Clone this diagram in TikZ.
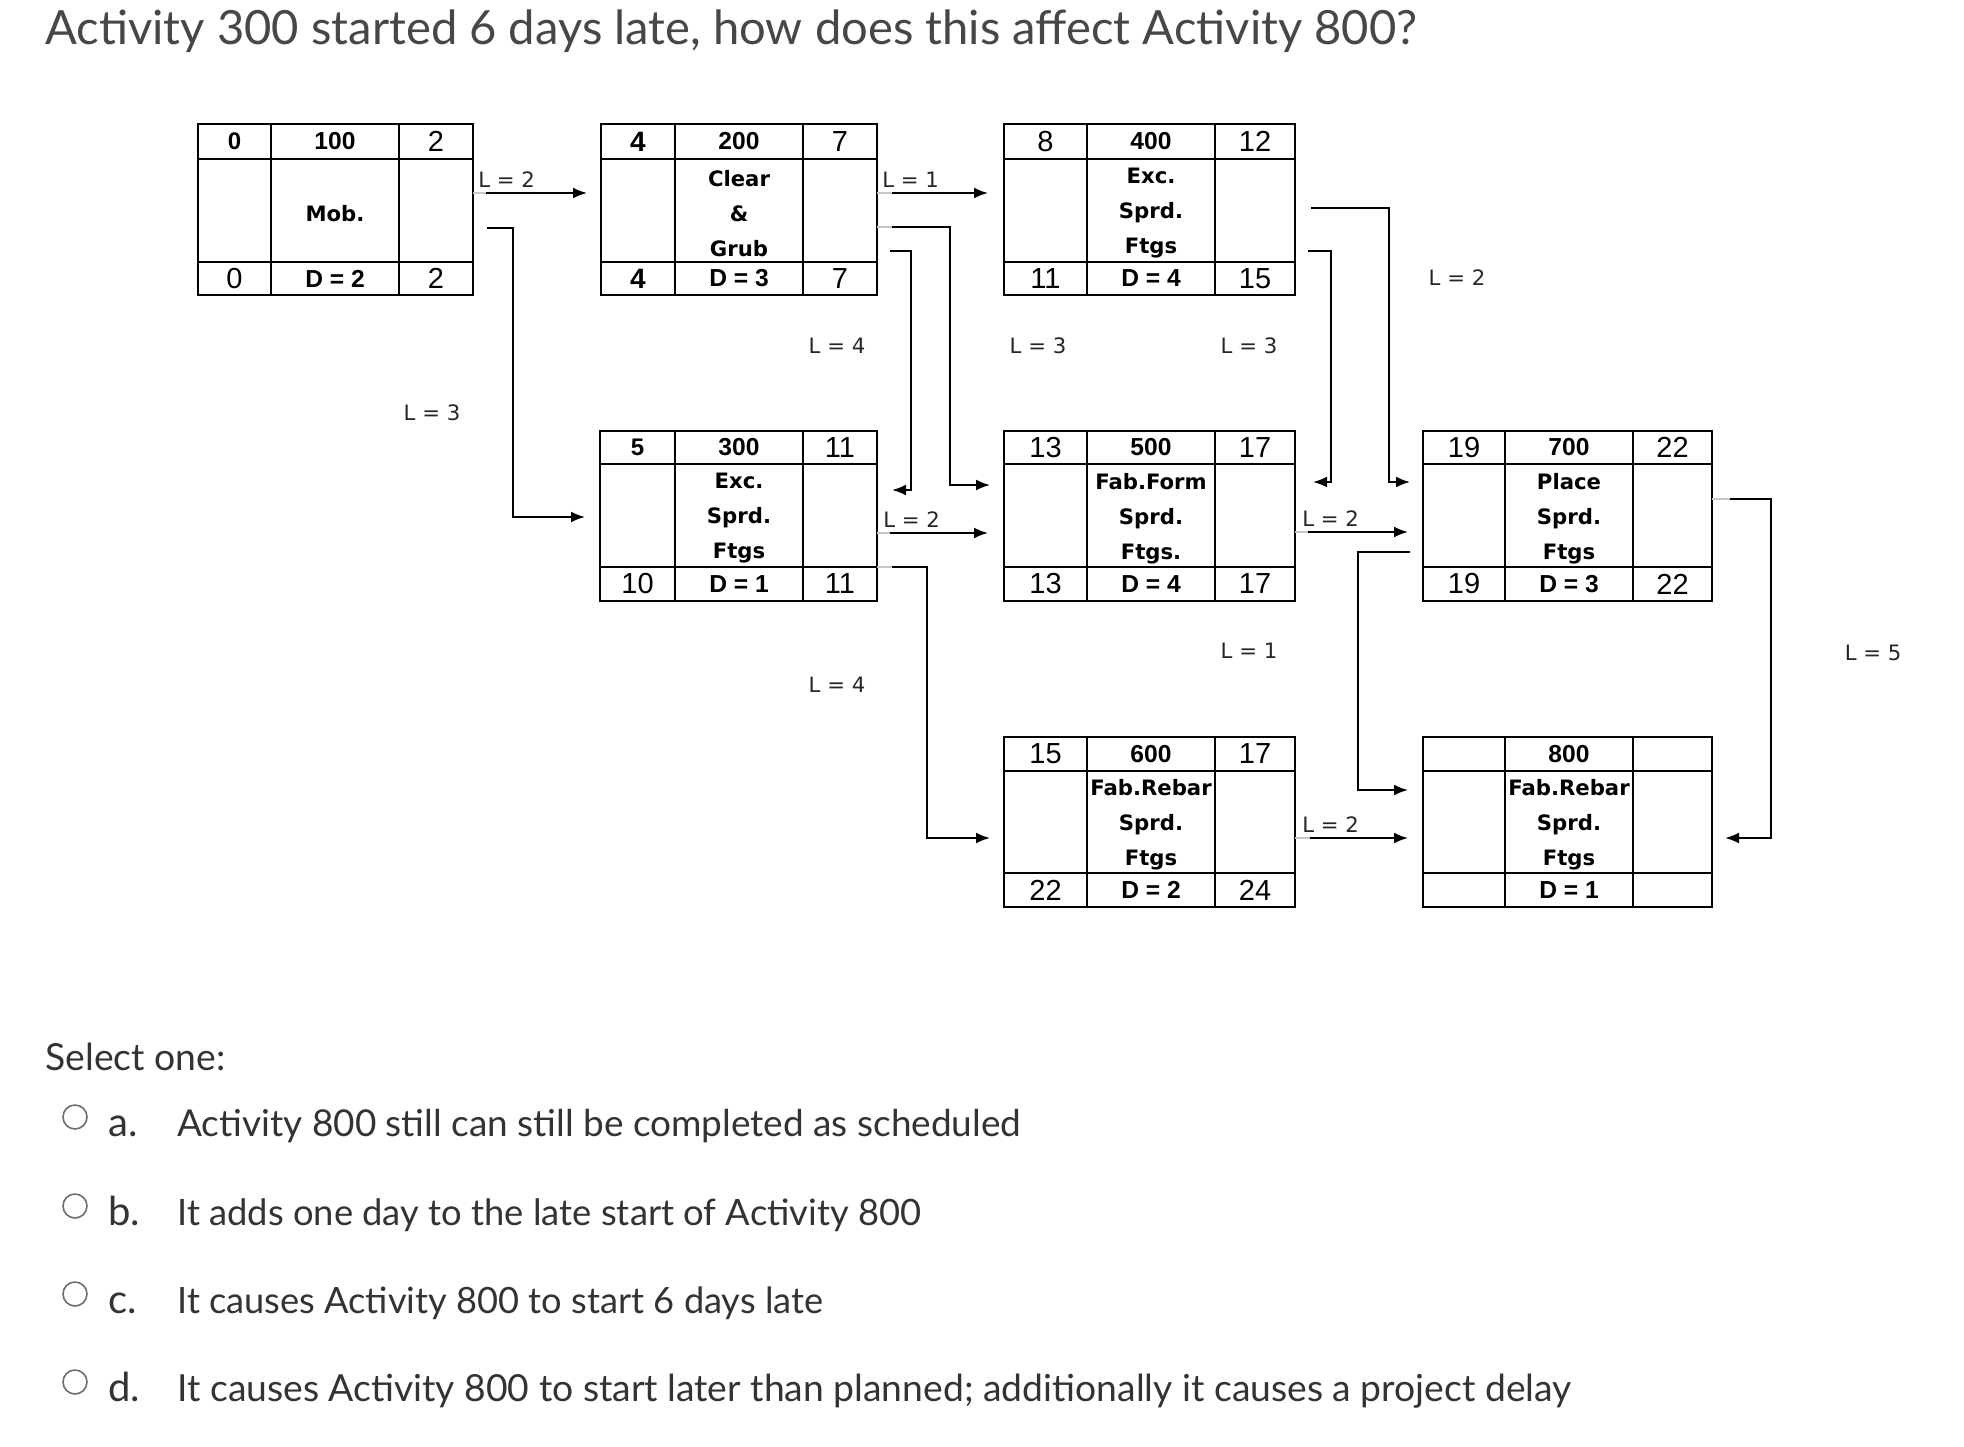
\documentclass[tikz,border=0pt]{standalone}
\usepackage{fontspec}
\usepackage{graphicx}
\usetikzlibrary{arrows.meta,calc,fit}
\newfontfamily\arialf{Liberation Sans}
\newfontfamily\dejaf{DejaVu Sans}
\newfontfamily\latof{Lato}
\definecolor{txt}{HTML}{333333}
\definecolor{ttl}{HTML}{474747}
\definecolor{radio}{HTML}{6E6E6E}
\newcommand\cbold{\bfseries\fontsize{14}{15}\selectfont}
\newcommand\cboldsmall{\bfseries\fontsize{12}{13}\selectfont}
% box: name, x1, y1, x2, y2, xa, xb, ya, yb
\newcommand\abox[9]{%
  \node[boxframe, fit={(#2,#3)(#4,#5)}] (#1) {};
  \draw[divider] (#6,#3) -- (#6,#5);
  \draw[divider] (#7,#3) -- (#7,#5);
  \draw[divider] (#2,#8) -- (#4,#8);
  \draw[divider] (#2,#9) -- (#4,#9);
  \coordinate (#1-tl) at ({(#2+#6)/2},{(#3+#8)/2});
  \coordinate (#1-tc) at ({(#6+#7)/2},{(#3+#8)/2});
  \coordinate (#1-tr) at ({(#7+#4)/2},{(#3+#8)/2});
  \coordinate (#1-mc) at ({(#6+#7)/2},{(#8+#9)/2});
  \coordinate (#1-bl) at ({(#2+#6)/2},{(#9+#5)/2});
  \coordinate (#1-bc) at ({(#6+#7)/2},{(#9+#5)/2});
  \coordinate (#1-br) at ({(#7+#4)/2},{(#9+#5)/2});
}
\newcommand\atext[8]{%
  \node[corner] (#1-TL) at (#1-tl) {#2};
  \node[numtxt] (#1-TC) at (#1-tc) {#3};
  \node[corner] (#1-TR) at (#1-tr) {#4};
  \node[midtxt] (#1-MC) at (#1-mc) {#5};
  \node[corner] (#1-BL) at (#1-bl) {#6};
  \node[numtxt] (#1-BC) at (#1-bc) {#7};
  \node[corner] (#1-BR) at (#1-br) {#8};
}
\begin{document}
\begin{tikzpicture}[x=0.5pt,y=-0.5pt,
  boxframe/.style={draw, line width=1.2pt, inner sep=0pt, outer sep=0pt, rectangle},
  divider/.style={line width=1.2pt},
  corner/.style={font=\arialf\fontsize{14.5}{16}\selectfont, inner sep=0pt},
  numtxt/.style={font=\arialf\bfseries\fontsize{12.3}{14}\selectfont, inner sep=0pt},
  midtxt/.style={font=\dejaf\bfseries\fontsize{10.6}{17.5}\selectfont, align=center, inner sep=0pt, yshift=-1.5pt},
  conn/.style={line width=1pt, black},
  arr/.style={conn, -{Latex[length=7pt,width=5.5pt]}},
  lead/.style={line width=1pt, black!22},
  lag/.style={font=\dejaf\fontsize{10.6}{12}\selectfont, text=black!85, inner sep=0pt},
  qtext/.style={font=\latof, text=txt, inner sep=0pt, anchor=base west},
  radiobtn/.style={circle, draw=radio, line width=0.8pt, minimum size=12pt, inner sep=0pt}
]
\fill[white] (0,0) rectangle (1964,1446);
\useasboundingbox (0,0) rectangle (1964,1446);

% ---------- title ----------
\node[qtext, text=ttl] (title) at (45,44)
  {\resizebox{686pt}{!}{\fontsize{26}{30}\selectfont Activity 300 started 6 days late, how does this affect Activity 800?}};

% ---------- activity boxes ----------
\abox{b100}{198}{124}{473}{295}{271}{399}{159}{262}
\abox{b200}{601}{124}{877}{295}{675}{803}{159}{262}
\abox{b400}{1004}{124}{1295}{295}{1087}{1215}{159}{262}
\abox{b300}{600}{431}{877}{601}{675}{803}{464}{567}
\abox{b500}{1004}{431}{1295}{601}{1087}{1215}{464}{567}
\abox{b700}{1423}{431}{1712}{601}{1505}{1633}{464}{567}
\abox{b600}{1004}{737}{1295}{907}{1087}{1215}{771}{873}
\abox{b800}{1423}{737}{1712}{907}{1505}{1633}{771}{873}

\atext{b100}{\cboldsmall 0}{100}{2}{Mob.}{0}{D = 2}{2}
\atext{b200}{\cbold 4}{200}{7}{Clear\\\&\\Grub}{\cbold 4}{D = 3}{7}
\atext{b400}{8}{400}{12}{Exc.\\Sprd.\\Ftgs}{11}{D = 4}{15}
\atext{b300}{\cboldsmall 5}{300}{11}{Exc.\\Sprd.\\Ftgs}{10}{D = 1}{11}
\atext{b500}{13}{500}{17}{Fab.Form\\Sprd.\\Ftgs.}{13}{D = 4}{17}
\atext{b700}{19}{700}{22}{Place\\Sprd.\\Ftgs}{19}{D = 3}{22}
\atext{b600}{15}{600}{17}{Fab.Rebar\\Sprd.\\Ftgs}{22}{D = 2}{24}
\atext{b800}{}{800}{}{Fab.Rebar\\Sprd.\\Ftgs}{}{D = 1}{}

% ---------- connectors ----------
% 100 -> 200
\draw[lead] ($(b100.north east)+(0,69)$) -- ($(b100.north east)+(13,69)$);
\draw[arr] ($(b100.north east)+(13,69)$) -- ($(b200.north west)+(-14,69)$);
% 200 -> 400
\draw[lead] ($(b200.north east)+(0,69)$) -- ($(b200.north east)+(15,69)$);
\draw[arr] ($(b200.north east)+(15,69)$) -- ($(b400.north west)+(-16,69)$);
% 200 -> 500
\draw[lead] ($(b200.north east)+(0,103)$) -- ($(b200.north east)+(15,103)$);
\draw[arr] ($(b200.north east)+(15,103)$) -| ($(b500.north west)+(-54,54)$) -- ($(b500.north west)+(-14,54)$);
% 200 -> 300
\draw[arr] ($(b200.north east)+(13,127)$) -| ($(b300.north east)+(34,59)$) -- ($(b300.north east)+(15,59)$);
% 100 -> 300
\draw[arr] ($(b100.north east)+(14,104)$) -| ($(b300.north west)+(-87,86)$) -- ($(b300.north west)+(-15,86)$);
% 300 -> 500
\draw[lead] ($(b300.north east)+(0,102)$) -- ($(b300.north east)+(13,102)$);
\draw[arr] ($(b300.north east)+(13,102)$) -- ($(b500.north west)+(-16,102)$);
% 300 -> 600
\draw[lead] ($(b300.north east)+(0,136)$) -- ($(b300.north east)+(15,136)$);
\draw[arr] ($(b300.north east)+(15,136)$) -| ($(b600.north west)+(-77,101)$) -- ($(b600.north west)+(-14,101)$);
% 400 -> 500
\draw[arr] ($(b400.north east)+(13,127)$) -| ($(b500.north east)+(36,51)$) -- ($(b500.north east)+(18,51)$);
% 400 -> 700
\draw[arr] ($(b400.north east)+(16,84)$) -| ($(b700.north west)+(-34,51)$) -- ($(b700.north west)+(-13,51)$);
% 500 -> 700
\draw[lead] ($(b500.north east)+(0,101)$) -- ($(b500.north east)+(13,101)$);
\draw[arr] ($(b500.north east)+(13,101)$) -- ($(b700.north west)+(-15,101)$);
% line from 700 side down to 800
\draw[arr] ($(b700.north west)+(-13,121)$) -| ($(b800.north west)+(-65,53)$) -- ($(b800.north west)+(-15,53)$);
% 600 -> 800
\draw[lead] ($(b600.north east)+(0,101)$) -- ($(b600.north east)+(15,101)$);
\draw[arr] ($(b600.north east)+(15,101)$) -- ($(b800.north west)+(-15,101)$);
% 700 -> 800
\draw[lead] ($(b700.north east)+(0,68)$) -- ($(b700.north east)+(18,68)$);
\draw[arr] ($(b700.north east)+(18,68)$) -| ($(b800.north east)+(59,101)$) -- ($(b800.north east)+(13,101)$);

% ---------- lag labels ----------
\node[lag, anchor=base west] (l1) at (478,187) {L = 2};
\node[lag, anchor=base west] (l2) at (882,187) {L = 1};
\node[lag, anchor=base west] (l3) at (883,527) {L = 2};
\node[lag, anchor=base west] (l4) at (1302,526) {L = 2};
\node[lag, anchor=base west] (l5) at (1302,832) {L = 2};
\node[lag] (l6) at (837,346) {L = 4};
\node[lag] (l7) at (1038,346) {L = 3};
\node[lag] (l8) at (1249,346) {L = 3};
\node[lag] (l9) at (1457,278) {L = 2};
\node[lag] (l10) at (432,413) {L = 3};
\node[lag] (l11) at (1249,651) {L = 1};
\node[lag] (l12) at (837,685) {L = 4};
\node[lag] (l13) at (1873,653) {L = 5};

% ---------- question ----------
\node[qtext] (sel) at (45,1070) {\resizebox{90pt}{!}{\fontsize{20}{24}\selectfont Select one:}};

\node[radiobtn] (ra) at (75,1117) {};
\node[radiobtn] (rb) at (75,1206) {};
\node[radiobtn] (rc) at (75,1294) {};
\node[radiobtn] (rd) at (75,1382) {};

\node[qtext, font=\latof\fontsize{20}{24}\selectfont] (la) at (108,1136) {a.};
\node[qtext, font=\latof\fontsize{20}{24}\selectfont] (lb) at (108,1225) {b.};
\node[qtext, font=\latof\fontsize{20}{24}\selectfont] (lc) at (108,1313) {c.};
\node[qtext, font=\latof\fontsize{20}{24}\selectfont] (ld) at (108,1401) {d.};

\node[qtext] (oa) at (177,1136) {\resizebox{422pt}{!}{\fontsize{20}{24}\selectfont Activity 800 still can still be completed as scheduled}};
\node[qtext] (ob) at (177,1225) {\resizebox{372pt}{!}{\fontsize{20}{24}\selectfont It adds one day to the late start of Activity 800}};
\node[qtext] (oc) at (177,1313) {\resizebox{323pt}{!}{\fontsize{20}{24}\selectfont It causes Activity 800 to start 6 days late}};
\node[qtext] (od) at (177,1401) {\resizebox{697pt}{!}{\fontsize{20}{24}\selectfont It causes Activity 800 to start later than planned; additionally it causes a project delay}};
\end{tikzpicture}
\end{document}
